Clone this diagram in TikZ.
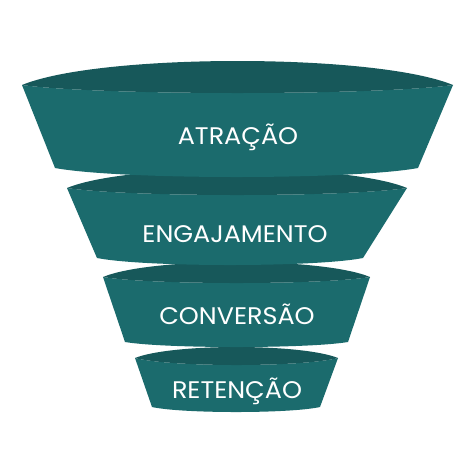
\documentclass[tikz,border=0pt]{standalone}
\usepackage{fontspec}
\setmainfont{Poppins}
\definecolor{sidecol}{HTML}{1B6B6D}
\definecolor{topcol}{HTML}{17585A}
\tikzset{
  sidefill/.style={fill=sidecol},
  lensfill/.style={fill=topcol},
  lbl/.style={text=white, font=\fontsize{24}{24}\selectfont, anchor=base, inner sep=0pt}
}
\newcommand{\wtxt}[1]{\scalebox{1.06}[1]{#1}}
\newcommand{\funlayer}[9]{%
% #1 left tip x, #2 right tip x, #3 tip y, #4 lens top y, #5 lens bottom y,
% #6 bottom-left x, #7 bottom-right x, #8 bottom corner y, #9 bottom center y
\pgfmathsetmacro{\tcy}{(#4-0.25*#3)/0.75}
\pgfmathsetmacro{\bcy}{(#5-0.25*#3)/0.75}
\pgfmathsetmacro{\dcy}{(#9-0.25*#8)/0.75}
\pgfmathsetmacro{\wa}{(#2-#1)*0.18}
\pgfmathsetmacro{\wb}{(#7-#6)*0.18}
\fill[sidefill] (#1,#3) -- (#6,#8) .. controls (#6+\wb,\dcy) and (#7-\wb,\dcy) .. (#7,#8) -- (#2,#3) .. controls (#2-\wa,\bcy) and (#1+\wa,\bcy) .. cycle;
\fill[lensfill] (#1,#3) .. controls (#1+\wa,\tcy) and (#2-\wa,\tcy) .. (#2,#3) .. controls (#2-\wa,\bcy) and (#1+\wa,\bcy) .. cycle;
}
\begin{document}
\begin{tikzpicture}[x=1pt,y=-1pt]
\useasboundingbox (0,0) rectangle (474,474);
\fill[white] (0,0) rectangle (474,474);
% layer 4
\funlayer{135}{338}{358}{347}{365}{152}{320}{407}{412}
% layer 3
\funlayer{103}{370}{277}{262}{283}{125}{348}{342}{347}
% layer 2
\funlayer{67}{407}{188}{169}{195}{97}{363}{258}{265}
% layer 1
\funlayer{22}{453}{85}{61}{93}{55}{418}{168}{177}
\node[lbl] (atr) at (238,144) {\wtxt{ATRAÇÃO}};
\node[lbl] (eng) at (235,242) {\wtxt{ENGAJAMENTO}};
\node[lbl] (con) at (237,324) {\wtxt{CONVERSÃO}};
\node[lbl] (ret) at (237,398) {\wtxt{RETENÇÃO}};
\end{tikzpicture}
\end{document}
